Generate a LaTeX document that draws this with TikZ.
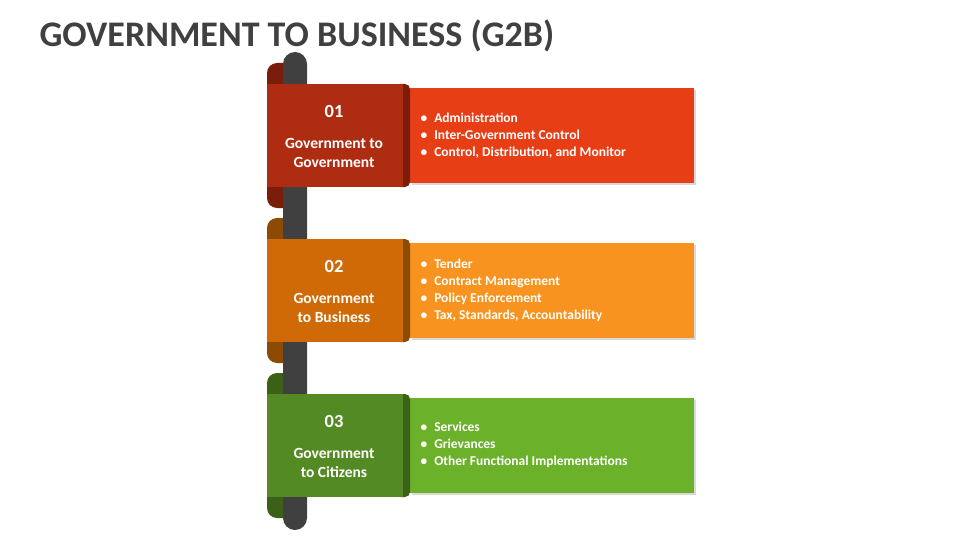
\documentclass[tikz,border=0pt]{standalone}
\usepackage{fontspec}
\setmainfont{Carlito}
\usetikzlibrary{shadows}
\definecolor{tcol}{HTML}{404040}
\definecolor{poleC}{HTML}{404040}
\definecolor{bA}{HTML}{AE2D12}\definecolor{dA}{HTML}{7A1E0B}\definecolor{xA}{HTML}{E83E16}
\definecolor{bB}{HTML}{D06A06}\definecolor{dB}{HTML}{8C4A05}\definecolor{xB}{HTML}{F7931E}
\definecolor{bC}{HTML}{548A23}\definecolor{dC}{HTML}{3B6118}\definecolor{xC}{HTML}{6BB12A}
\tikzset{
 listbox/.style={anchor=north west,minimum width=284pt,minimum height=95pt,inner sep=0pt,drop shadow={shadow xshift=2pt,shadow yshift=-2pt,opacity=0.3}},
 bantext/.style={text=white,font=\bfseries,align=center},
 bultext/.style={text=white,anchor=north west,align=left,font=\fontsize{13.5}{17}\bfseries\selectfont}
}
\begin{document}
\begin{tikzpicture}[x=1pt,y=-1pt]
\useasboundingbox (0,0) rectangle (960,540);
\node[anchor=west,text=tcol,font=\fontsize{36}{38}\bfseries\selectfont] (title) at (36,36) {GOVERNMENT TO BUSINESS (G2B)};
% back curls
\foreach \o/\d in {0/dA,155/dB,310/dC}{
  \fill[\d,rounded corners=10pt] (267,63+\o) rectangle (300,110+\o);
  \fill[\d,rounded corners=10pt] (267,160+\o) rectangle (300,208+\o);
}
\fill[poleC,rounded corners=12pt] (283,52) rectangle (307,530);
% boxes
\node[listbox,fill=xA] (boxA) at (410,88) {};
\node[listbox,fill=xB] (boxB) at (410,243) {};
\node[listbox,fill=xC] (boxC) at (410,398) {};
\foreach \o/\b/\d/\n in {0/bA/dA/A,155/bB/dB/B,310/bC/dC/C}{
  \fill[\d,rounded corners=5pt] (395,84+\o) rectangle (410,187+\o);
  \fill[\b] (267,84+\o) rectangle (403,187+\o);
}
\node[bantext,font=\fontsize{18.5}{20}\bfseries\selectfont] (nA) at (334,111) {01};
\node[bantext,font=\fontsize{15.5}{19}\bfseries\selectfont] (lA) at (334,153) {Government to\\Government};
\node[bantext,font=\fontsize{18.5}{20}\bfseries\selectfont] (nB) at (334,266) {02};
\node[bantext,font=\fontsize{15.5}{19}\bfseries\selectfont] (lB) at (334,308) {Government\\to Business};
\node[bantext,font=\fontsize{18.5}{20}\bfseries\selectfont] (nC) at (334,421) {03};
\node[bantext,font=\fontsize{15.5}{19}\bfseries\selectfont] (lC) at (334,463) {Government\\to Citizens};
\node[bultext] (tA) at (417,109) {\textbullet\hspace{7pt}Administration\\\textbullet\hspace{7pt}Inter-Government Control\\\textbullet\hspace{7pt}Control, Distribution, and Monitor};
\node[bultext] (tB) at (417,255) {\textbullet\hspace{7pt}Tender\\\textbullet\hspace{7pt}Contract Management\\\textbullet\hspace{7pt}Policy Enforcement\\\textbullet\hspace{7pt}Tax, Standards, Accountability};
\node[bultext] (tC) at (417,418) {\textbullet\hspace{7pt}Services\\\textbullet\hspace{7pt}Grievances\\\textbullet\hspace{7pt}Other Functional Implementations};
\end{tikzpicture}
\end{document}
